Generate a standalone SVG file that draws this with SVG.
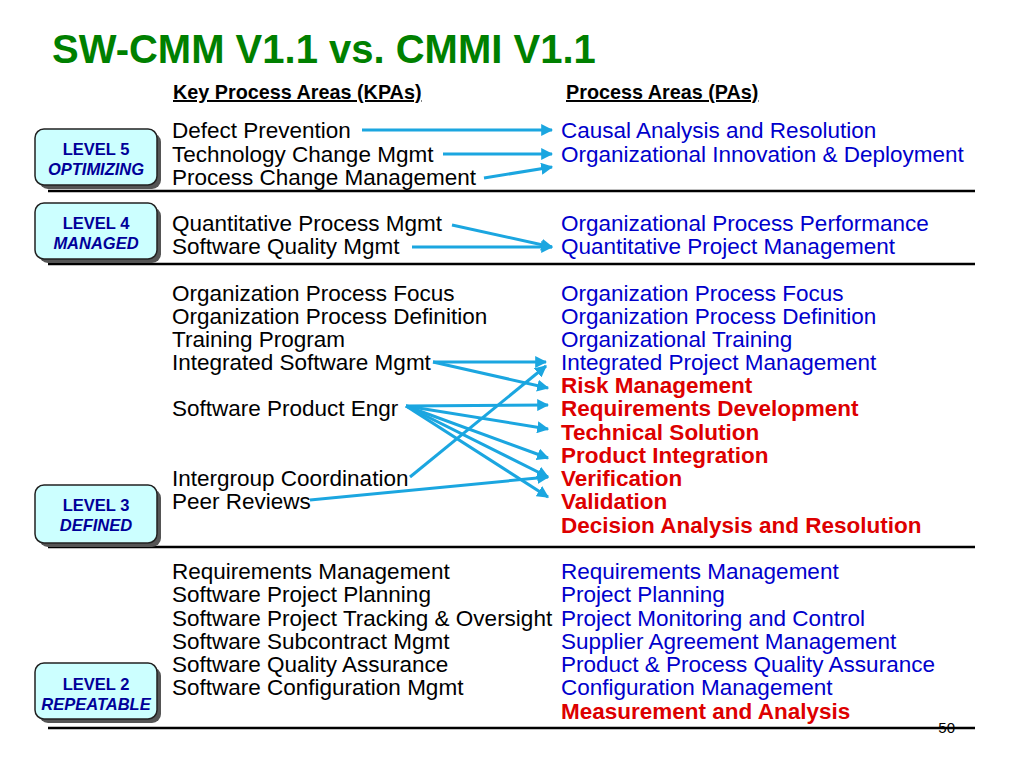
<svg xmlns="http://www.w3.org/2000/svg" width="1024" height="768" viewBox="0 0 1024 768">
<style>
text{font-family:"Liberation Sans",Arial,sans-serif}
.k{font-size:22.5px;fill:#000}
.p{font-size:22.5px;fill:#0000cc}
.r{font-size:22.5px;fill:#dd0000;font-weight:bold}
.h{font-size:19.8px;font-weight:bold;text-decoration:underline}
.lv{font-size:16.5px;font-weight:bold;fill:#000099}
.box{fill:#ccffff;stroke:#222;stroke-width:1.5}
.sh{fill:#555}
.sep{stroke:#000;stroke-width:2.5}
.a{stroke:#1ba6e0;stroke-width:3;fill:none;marker-end:url(#ah)}
</style>
<defs>
<marker id="ah" viewBox="0 0 10 10" refX="9" refY="5" markerWidth="4" markerHeight="4" orient="auto" markerUnits="strokeWidth">
<path d="M0,0L10,5L0,10z" fill="#1ba6e0"/>
</marker>
</defs>
<rect width="1024" height="768" fill="#fff"/>
<text x="52" y="63" font-size="40" font-weight="bold" fill="#008000">SW-CMM V1.1 vs. CMMI V1.1</text>
<text x="173" y="99" class="h">Key Process Areas (KPAs)</text>
<text x="566" y="99" class="h">Process Areas (PAs)</text>
<g id="separators">
<line x1="48" y1="191" x2="975" y2="191" class="sep"/>
<line x1="48" y1="264" x2="975" y2="264" class="sep"/>
<line x1="48" y1="547" x2="975" y2="547" class="sep"/>
<line x1="48" y1="728" x2="975" y2="728" class="sep"/>
</g>
<g id="level5"><rect x="39" y="133" width="122" height="56" rx="9" class="sh"/><rect x="35" y="129" width="122" height="56" rx="9" class="box"/><text x="96" y="155" class="lv" text-anchor="middle">LEVEL 5</text><text x="96" y="175" class="lv" text-anchor="middle" font-style="italic">OPTIMIZING</text></g>
<g id="level4"><rect x="39" y="207" width="122" height="56" rx="9" class="sh"/><rect x="35" y="203" width="122" height="56" rx="9" class="box"/><text x="96" y="229" class="lv" text-anchor="middle">LEVEL 4</text><text x="96" y="249" class="lv" text-anchor="middle" font-style="italic">MANAGED</text></g>
<g id="level3"><rect x="39" y="489" width="122" height="58" rx="9" class="sh"/><rect x="35" y="485" width="122" height="58" rx="9" class="box"/><text x="96" y="511" class="lv" text-anchor="middle">LEVEL 3</text><text x="96" y="531" class="lv" text-anchor="middle" font-style="italic">DEFINED</text></g>
<g id="level2"><rect x="39" y="667" width="122" height="56" rx="9" class="sh"/><rect x="35" y="663" width="122" height="56" rx="9" class="box"/><text x="96" y="690" class="lv" text-anchor="middle">LEVEL 2</text><text x="96" y="710" class="lv" text-anchor="middle" font-style="italic">REPEATABLE</text></g>
<g id="kpas">
<text x="172" y="138" class="k">Defect Prevention</text>
<text x="172" y="162" class="k">Technology Change Mgmt</text>
<text x="172" y="185" class="k">Process Change Management</text>
<text x="172" y="231" class="k">Quantitative Process Mgmt</text>
<text x="172" y="254" class="k">Software Quality Mgmt</text>
<text x="172" y="301" class="k">Organization Process Focus</text>
<text x="172" y="324" class="k">Organization Process Definition</text>
<text x="172" y="347" class="k">Training Program</text>
<text x="172" y="370" class="k">Integrated Software Mgmt</text>
<text x="172" y="416" class="k">Software Product Engr</text>
<text x="172" y="486" class="k">Intergroup Coordination</text>
<text x="172" y="509" class="k">Peer Reviews</text>
<text x="172" y="579" class="k">Requirements Management</text>
<text x="172" y="602" class="k">Software Project Planning</text>
<text x="172" y="626" class="k">Software Project Tracking &amp; Oversight</text>
<text x="172" y="649" class="k">Software Subcontract Mgmt</text>
<text x="172" y="672" class="k">Software Quality Assurance</text>
<text x="172" y="695" class="k">Software Configuration Mgmt</text>
</g>
<g id="pas">
<text x="561" y="138" class="p">Causal Analysis and Resolution</text>
<text x="561" y="162" class="p">Organizational Innovation &amp; Deployment</text>
<text x="561" y="231" class="p">Organizational Process Performance</text>
<text x="561" y="254" class="p">Quantitative Project Management</text>
<text x="561" y="301" class="p">Organization Process Focus</text>
<text x="561" y="324" class="p">Organization Process Definition</text>
<text x="561" y="347" class="p">Organizational Training</text>
<text x="561" y="370" class="p">Integrated Project Management</text>
<text x="561" y="393" class="r">Risk Management</text>
<text x="561" y="416" class="r">Requirements Development</text>
<text x="561" y="440" class="r">Technical Solution</text>
<text x="561" y="463" class="r">Product Integration</text>
<text x="561" y="486" class="r">Verification</text>
<text x="561" y="509" class="r">Validation</text>
<text x="561" y="533" class="r">Decision Analysis and Resolution</text>
<text x="561" y="579" class="p">Requirements Management</text>
<text x="561" y="602" class="p">Project Planning</text>
<text x="561" y="626" class="p">Project Monitoring and Control</text>
<text x="561" y="649" class="p">Supplier Agreement Management</text>
<text x="561" y="672" class="p">Product &amp; Process Quality Assurance</text>
<text x="561" y="695" class="p">Configuration Management</text>
<text x="561" y="719" class="r">Measurement and Analysis</text>
</g>
<text x="955" y="733" font-size="15" text-anchor="end" font-family="Liberation Sans,sans-serif">50</text>
<g id="connectors">
<line x1="362" y1="130" x2="552" y2="130" class="a"/>
<line x1="443" y1="154" x2="552" y2="154" class="a"/>
<line x1="484" y1="178" x2="552" y2="167" class="a"/>
<line x1="452" y1="225" x2="552" y2="247" class="a"/>
<line x1="412" y1="247" x2="552" y2="247" class="a"/>
<line x1="433" y1="362" x2="546" y2="362" class="a"/>
<line x1="433" y1="362" x2="548" y2="388" class="a"/>
<line x1="406" y1="406" x2="548" y2="405" class="a"/>
<line x1="406" y1="406" x2="548" y2="429" class="a"/>
<line x1="406" y1="406" x2="548" y2="458" class="a"/>
<line x1="406" y1="406" x2="548" y2="477" class="a"/>
<line x1="406" y1="406" x2="548" y2="497" class="a"/>
<line x1="410" y1="477" x2="546" y2="366" class="a"/>
<line x1="310" y1="500" x2="548" y2="477" class="a"/>
</g>
</svg>
